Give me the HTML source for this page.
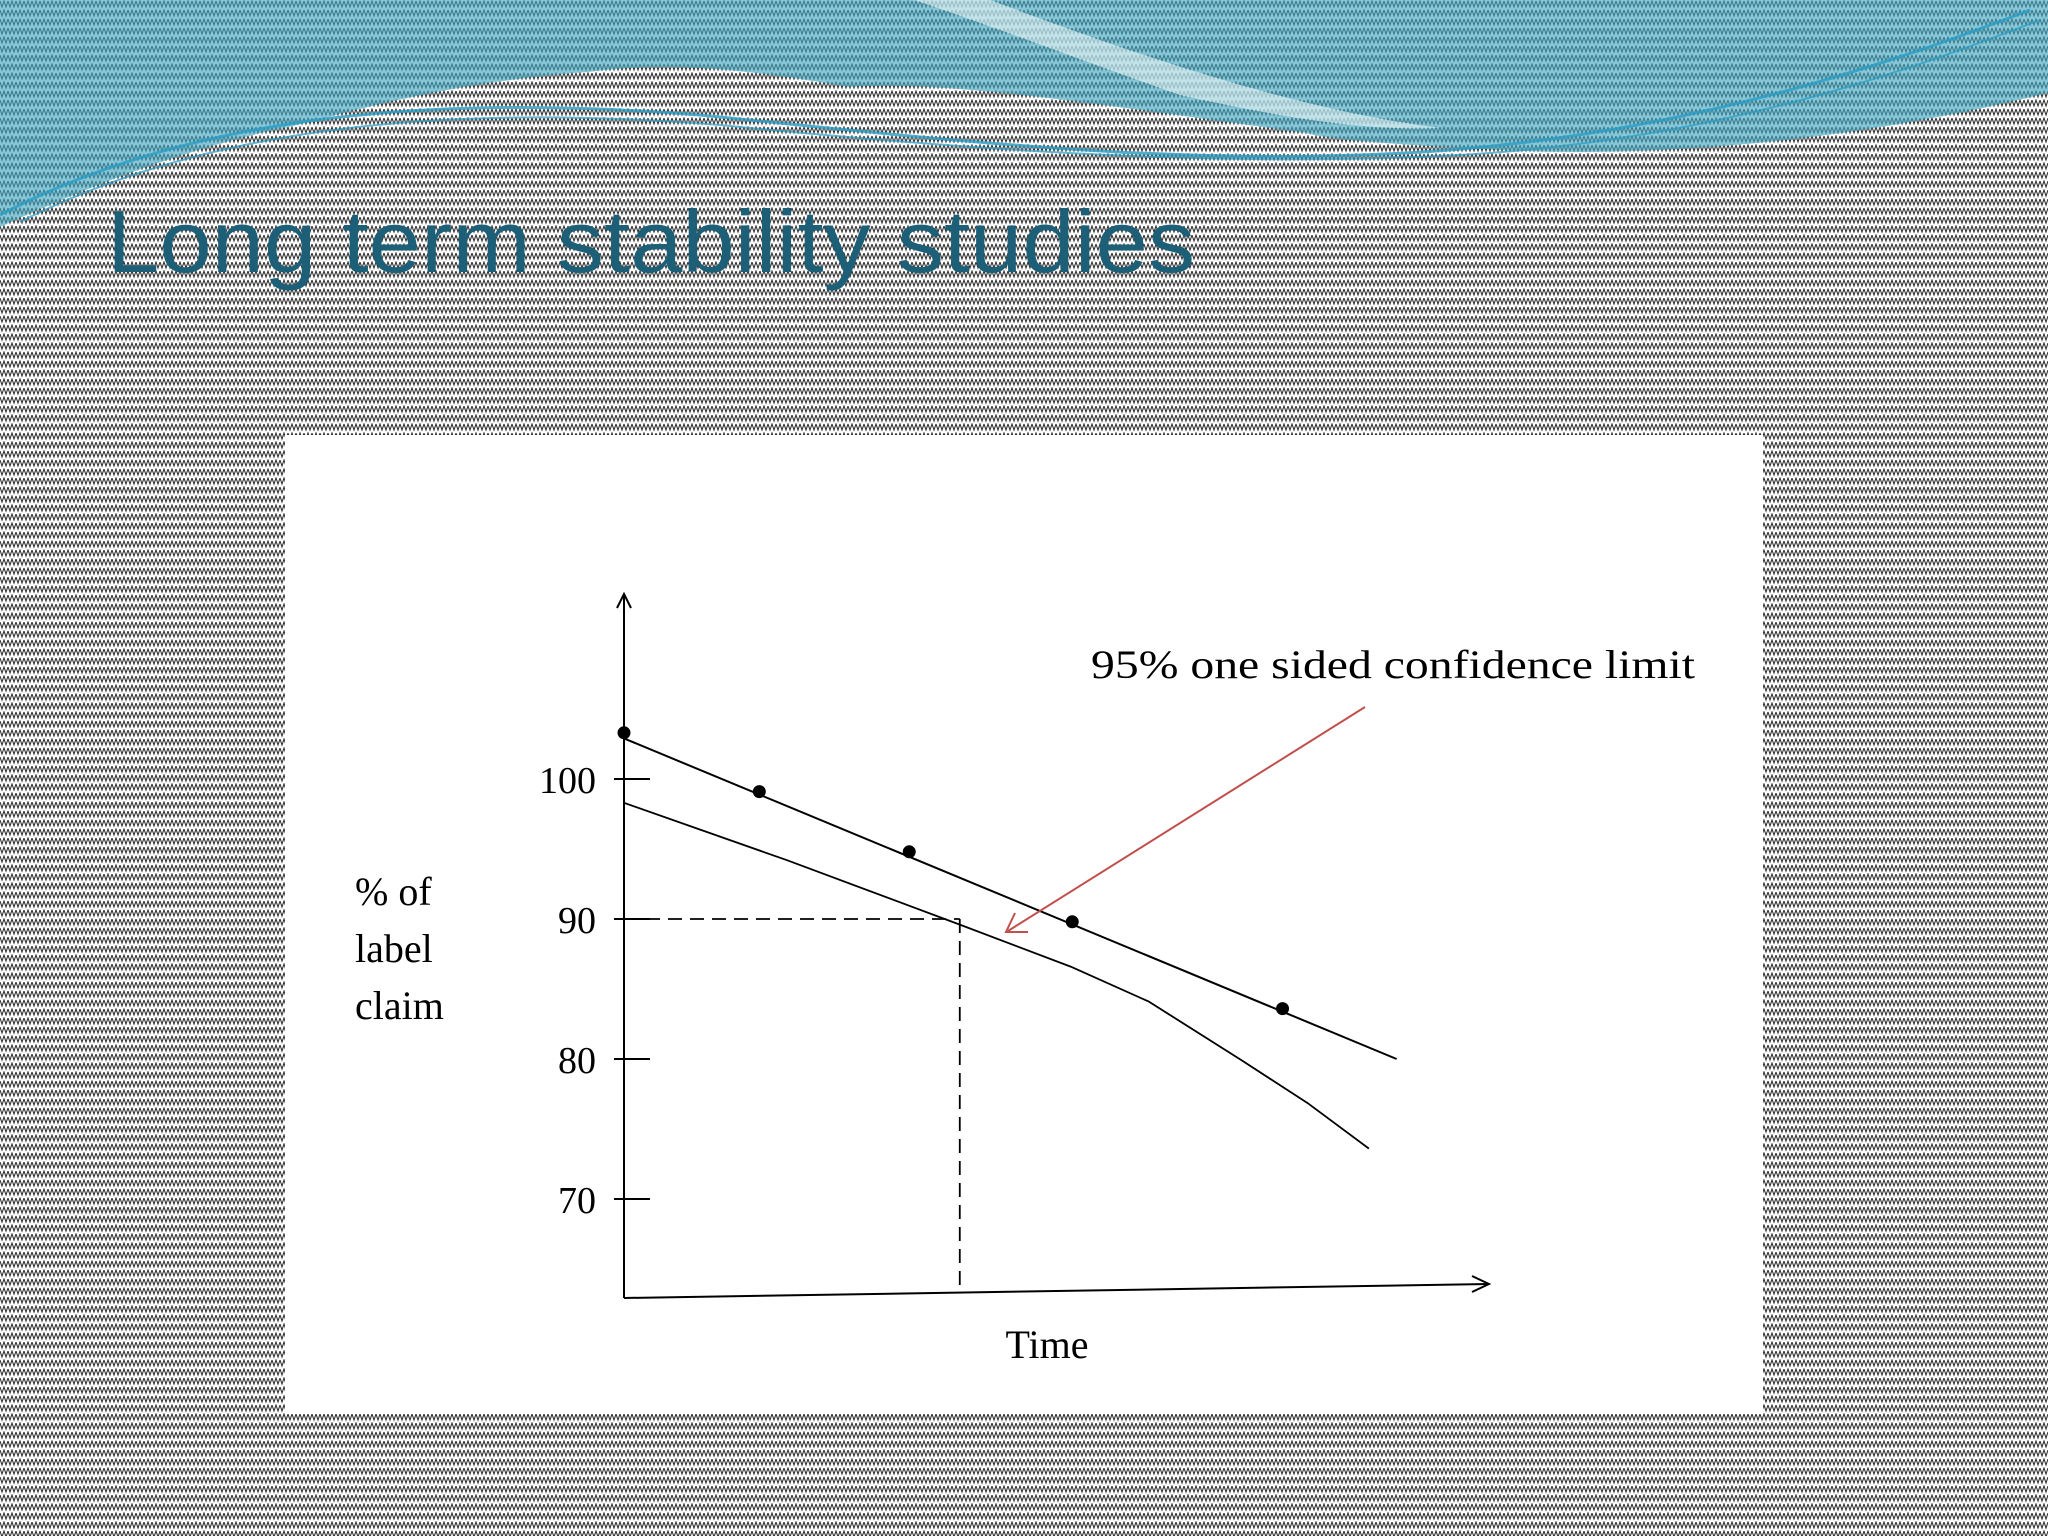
<!DOCTYPE html>
<html><head><meta charset="utf-8"><style>
html,body{margin:0;padding:0}
body{width:2048px;height:1536px;overflow:hidden;position:relative;font-family:"Liberation Serif",serif}
svg{position:absolute;left:0;top:0}
</style></head><body>
<svg width="2048" height="1536" viewBox="0 0 2048 1536">
<defs>
<pattern id="zz" width="8" height="9" patternUnits="userSpaceOnUse">
<rect width="8" height="9" fill="#ffffff"/>
<polyline points="0,1 2,7 4,1 6,7 8,1" fill="none" stroke="#333" stroke-width="1.1"/>
</pattern>
</defs>
<rect width="2048" height="1536" fill="url(#zz)"/>
<g>
<path d="M0,0 L2048,0 L2048,93 C1900,130 1700,160 1502,150 C1400,145 1330,140 1306,133 C1100,105 950,80 849,87 C760,72 680,60 588,72 C420,85 330,120 261,133 C150,160 60,200 0,227 Z" fill="#3fa6c0" opacity="0.62"/>
<path d="M914,0 L990,0 C1150,60 1300,110 1440,128 C1350,132 1250,110 1180,95 C1080,60 990,25 914,0 Z" fill="#ffffff" opacity="0.5"/>
<path d="M0,215 C200,110 450,95 700,115 C950,140 1200,170 1450,150 C1700,130 1900,60 2030,10" fill="none" stroke="#2a9cc4" stroke-width="3" opacity="0.8"/>
<path d="M20,222 C220,120 470,105 720,125 C970,150 1220,168 1460,155 C1720,140 1910,70 2040,20" fill="none" stroke="#2a9cc4" stroke-width="2" opacity="0.7"/>
</g>
<text x="107" y="272" font-family="'Liberation Sans',sans-serif" font-size="88" fill="#1e5f78" textLength="1088" lengthAdjust="spacingAndGlyphs">Long term stability studies</text>
<rect x="285" y="435" width="1478" height="979" fill="#ffffff"/>
<g id="chart"></g>
</svg>
<script>
const yTicks = [100, 90, 80, 70];
const times = [0, 0.83, 1.75, 2.75, 4.04];
const assay = [103.3, 99.1, 94.8, 89.8, 83.6];
const fitStart = {t: 0, v: 102.9};
const fitEnd = {t: 4.74, v: 80.0};
const lowerT = [0, 1.0, 2.06, 2.74, 3.22, 3.79, 4.2, 4.57];
const lowerV = [98.3, 94.2, 89.6, 86.6, 84.1, 79.9, 76.8, 73.6];
const shelfLifeValue = 90;
const shelfLifeTime = 2.06;

const ns = 'http://www.w3.org/2000/svg';
const g = document.getElementById('chart');
const X0 = 624, XUNIT = 163;
const Y100 = 779, YPER = 14.0;
function xs(t){ return X0 + t*XUNIT; }
function ys(v){ return Y100 + (100 - v)*YPER; }
function mk(tag, attrs, parent){
  const e = document.createElementNS(ns, tag);
  for (const k in attrs) e.setAttribute(k, attrs[k]);
  (parent||g).appendChild(e);
  return e;
}
let el = mk('line',{x1:X0,y1:1298,x2:X0,y2:594,stroke:'#000','stroke-width':2});


el = mk('polyline',{points:(X0-7)+',608 '+X0+',594 '+(X0+7)+',608',fill:'none',stroke:'#000','stroke-width':2});


el = mk('line',{x1:X0,y1:1298,x2:1489,y2:1284,stroke:'#000','stroke-width':2});


el = mk('polyline',{points:'1472,1276 1489,1284 1472,1292',fill:'none',stroke:'#000','stroke-width':2});


yTicks.forEach(v=>{
  const y = ys(v);
  let t = mk('line',{x1:X0-10,y1:y,x2:X0+26,y2:y,stroke:'#000','stroke-width':2});
  
  
  let l = mk('text',{x:596,y:y+14,'text-anchor':'end','font-size':38,'font-family':'"Liberation Serif",serif'});
  l.textContent = v;
  
  
});
el = mk('line',{x1:xs(fitStart.t),y1:ys(fitStart.v),x2:xs(fitEnd.t),y2:ys(fitEnd.v),stroke:'#000','stroke-width':2});


let d = '';
lowerT.forEach((t,i)=>{ d += (i?' L':'M') + xs(t) + ',' + ys(lowerV[i]); });
el = mk('path',{d:d,fill:'none',stroke:'#000','stroke-width':1.8,'stroke-linejoin':'round'});


const xsl = xs(shelfLifeTime);
el = mk('line',{x1:X0,y1:ys(shelfLifeValue),x2:xsl,y2:ys(shelfLifeValue),stroke:'#000','stroke-width':1.8,'stroke-dasharray':'14,8'});


el = mk('line',{x1:xsl,y1:ys(shelfLifeValue),x2:xsl,y2:1292,stroke:'#000','stroke-width':1.8,'stroke-dasharray':'14,8'});


times.forEach((t,i)=>{
  const c = mk('circle',{cx:xs(t),cy:ys(assay[i]),r:6.5,fill:'#000'});
  
  
});
el = mk('line',{x1:1365,y1:707,x2:1008,y2:931,stroke:'#c0504d','stroke-width':2});


el = mk('polyline',{points:'1015,913 1006,932 1028,932',fill:'none',stroke:'#c0504d','stroke-width':2});


el = mk('text',{x:1091,y:678,'font-size':40,textLength:604,lengthAdjust:'spacingAndGlyphs','font-family':'"Liberation Serif",serif'});
el.textContent = '95% one sided confidence limit';


['% of','label','claim'].forEach((s,i)=>{
  const t = mk('text',{x:355,y:905+i*57,'font-size':40,'font-family':'"Liberation Serif",serif'});
  t.textContent = s;
  
  
});
el = mk('text',{x:1047,y:1358,'text-anchor':'middle','font-size':40,'font-family':'"Liberation Serif",serif'});
el.textContent = 'Time';


</script>
</body></html>
